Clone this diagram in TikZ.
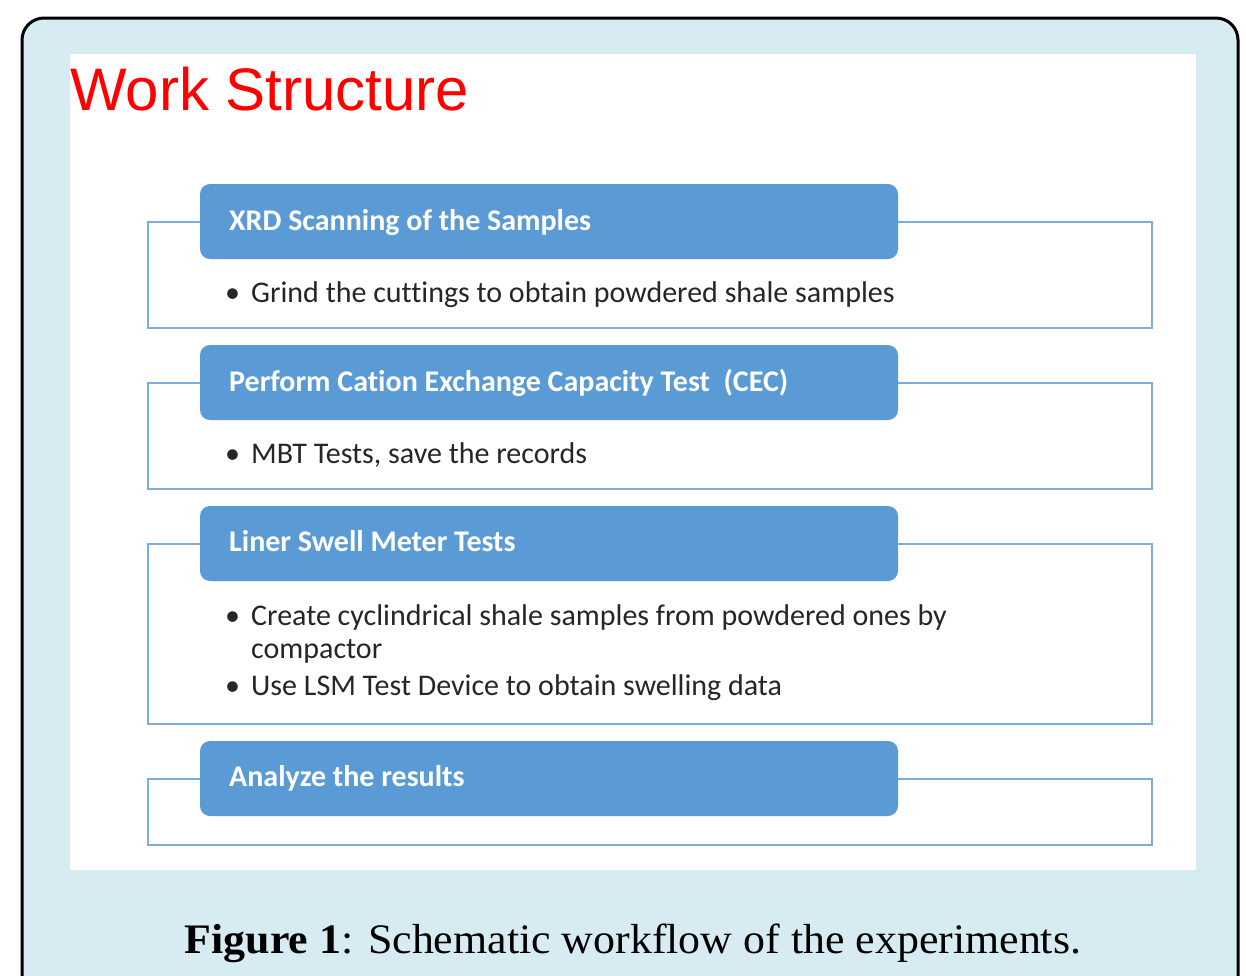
\documentclass[tikz,border=0pt]{standalone}
\usepackage{fontspec}
\newfontfamily\carl[Ligatures={NoCommon}]{Carlito}
\newfontfamily\arialf{Liberation Sans}
\newfontfamily\capf{Liberation Serif}
\definecolor{bgblue}{HTML}{D7ECF2}
\definecolor{hdrblue}{HTML}{5B9BD5}
\definecolor{lineblue}{HTML}{7EACDC}
\definecolor{txtgray}{HTML}{262626}
\tikzset{
  outline/.style={draw=lineblue, line width=1.8pt},
  hdr/.style={fill=hdrblue, rounded corners=10pt},
  hdrtext/.style={anchor=base west, inner sep=0pt, text=white, font=\carl\bfseries\fontsize{30}{34}\selectfont},
  bul/.style={anchor=base west, inner sep=0pt, text=txtgray, font=\carl\fontsize{30}{34}\selectfont},
}
\begin{document}
\begin{tikzpicture}[x=1pt,y=-1pt]
\useasboundingbox (0,0) rectangle (1246,975);
\clip (0,0) rectangle (1246,975);
% frame
\draw[fill=bgblue, line width=3pt, rounded corners=22pt] (22,18) rectangle (1238,1010);
\fill[white] (70,54) rectangle (1196,870);
% title
\node[anchor=base west, inner sep=0pt, text=red, font=\arialf\fontsize{60}{64}\selectfont] (title) at (70,110) {Work Structure};
% row 1
\draw[outline] (148,222) rectangle (1152,328);
\fill[hdr] (200,184) rectangle (898,259);
\node[hdrtext] (h1) at (229,230) {XRD Scanning of the Samples};
\node[bul] (b1d) at (225,302) {\textbullet};
\node[bul] (b1) at (251,302) {Grind the cuttings to obtain powdered shale samples};
% row 2
\draw[outline] (148,383) rectangle (1152,489);
\fill[hdr] (200,345) rectangle (898,420);
\node[hdrtext] (h2) at (229,391) {Perform Cation Exchange Capacity Test\ \ (CEC)};
\node[bul] (b2d) at (225,463) {\textbullet};
\node[bul] (b2) at (251,463) {MBT Tests, save the records};
% row 3
\draw[outline] (148,544) rectangle (1152,724);
\fill[hdr] (200,506) rectangle (898,581);
\node[hdrtext] (h3) at (229,551) {Liner Swell Meter Tests};
\node[bul] (b3d) at (225,625) {\textbullet};
\node[bul] (b3) at (251,625) {Create cyclindrical shale samples from powdered ones by};
\node[bul] (b3b) at (251,658) {compactor};
\node[bul] (b4d) at (225,695) {\textbullet};
\node[bul] (b4) at (251,695) {Use LSM Test Device to obtain swelling data};
% row 4
\draw[outline] (148,779) rectangle (1152,845);
\fill[hdr] (200,741) rectangle (898,816);
\node[hdrtext] (h4) at (229,786) {Analyze the results};
% caption
\node[anchor=base, inner sep=0pt, xscale=1.045, font=\capf\fontsize{42}{46}\selectfont] (cap) at (633,953) {\textbf{Figure 1}: Schematic workflow of the experiments.};
\end{tikzpicture}
\end{document}
